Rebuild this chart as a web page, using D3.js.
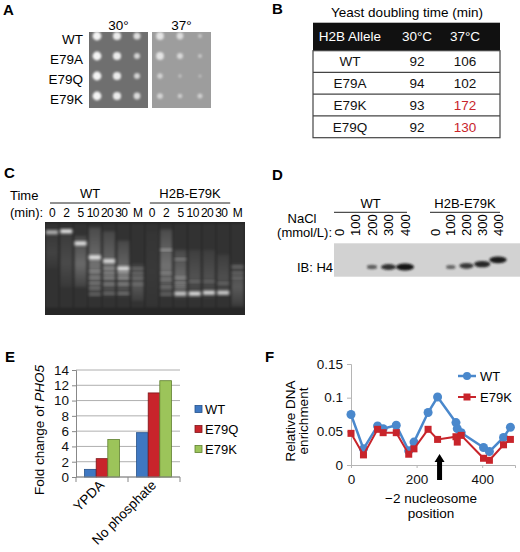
<!DOCTYPE html>
<html><head><meta charset="utf-8">
<script src="https://cdn.jsdelivr.net/npm/d3@7"></script>
<style>
body{margin:0;background:#fff}
svg{display:block;font-family:"Liberation Sans",Arial,Helvetica,sans-serif}
</style></head><body>
<svg id="fig" width="520" height="552"></svg>
<script>
// A - spot assay (growth score per 10x dilution)
var strains = ['WT', 'E79A', 'E79Q', 'E79K'];
var temps = ['30°', '37°'];
var growth30 = [[1, 0.9, 0.75], [1, 0.9, 0.6], [1, 0.9, 0.6], [1, 0.9, 0.7]];
var growth37 = [[0.85, 0.7, 0.3], [0.85, 0.6, 0.3], [0.5, 0.2, 0.15], [0.55, 0.4, 0.45]];

// B - doubling time table
var alleles = ['WT', 'E79A', 'E79K', 'E79Q'];
var dbl30 = [92, 94, 93, 92];
var dbl37 = [106, 102, 172, 130];
var tableCols = ['H2B Allele', '30°C', '37°C'];

// C - MNase gel, migration 0 (well) .. 1 (bottom)
var timeLabels = ['0', '2', '5', '10', '20', '30', 'M'];
var gelGroups = ['WT', 'H2B-E79K'];
// [from, to, brightness]
var gelSmear = [[0.12, 0.5, 0.1], [0.12, 0.7, 0.15], [0.15, 0.7, 0.35], [0.06, 0.8, 0.4], [0.1, 0.8, 0.35], [0.2, 0.8, 0.35], [0.45, 0.85, 0.25],
                [0.1, 0.9, 0.04], [0.08, 0.8, 0.4], [0.3, 0.82, 0.35], [0.3, 0.82, 0.2], [0.3, 0.82, 0.18], [0.35, 0.8, 0.18], [0.45, 0.9, 0.25]];
// [migration, brightness]
var gelBands = [
  [[0.11, 0.7]],
  [[0.10, 1.0]],
  [[0.23, 0.95]],
  [[0.38, 0.95], [0.53, 0.35], [0.6, 0.35], [0.66, 0.35], [0.71, 0.3], [0.78, 0.3]],
  [[0.42, 0.85], [0.5, 0.45], [0.55, 0.4], [0.6, 0.45], [0.67, 0.45], [0.77, 0.35]],
  [[0.5, 0.9], [0.55, 0.55], [0.6, 0.6], [0.67, 0.5], [0.77, 0.45]],
  [[0.5, 0.35], [0.55, 0.3], [0.6, 0.3], [0.67, 0.25]],
  [],
  [[0.3, 0.6], [0.55, 0.3], [0.62, 0.3], [0.7, 0.3], [0.78, 0.3]],
  [[0.4, 0.45], [0.6, 0.4], [0.66, 0.4], [0.7, 0.35], [0.77, 0.8]],
  [[0.64, 0.3], [0.77, 0.95]],
  [[0.64, 0.25], [0.76, 0.9]],
  [[0.66, 0.3], [0.76, 0.85]],
  [[0.48, 0.35], [0.55, 0.25], [0.6, 0.25]]
];

// D - salt extraction western
var naclLevels = ['0', '100', '200', '300', '400'];
var h4WT = [0, 0, 0.35, 0.75, 1];
var h4E79K = [0, 0.3, 0.7, 0.85, 0.95];
var h4E79KShift = [0, 0, 0.05, 0.12, 0.3];

// E - PHO5 expression
var conditions = ['YPDA', 'No phosphate'];
var mutants = ['WT', 'E79Q', 'E79K'];
var pho5WT = [1.0, 5.8];
var pho5E79Q = [2.4, 11.0];
var pho5E79K = [4.9, 12.6];
var pho5Ticks = [0, 2, 4, 6, 8, 10, 12, 14];

// F - nucleosome scanning
var positions = [0, 38, 81, 98, 138, 176, 192, 235, 264, 320, 324, 336, 404, 422, 465, 486];
var enrichWT = [0.075, 0.024, 0.058, 0.054, 0.059, 0.021, 0.034, 0.078, 0.101, 0.063, 0.054, 0.048, 0.026, 0.020, 0.041, 0.056];
var enrichE79K = [0.047, 0.015, 0.053, 0.048, 0.048, 0.016, 0.024, 0.053, 0.038, 0.042, 0.034, 0.044, 0.010, 0.007, 0.030, 0.038];
var arrowPos = 270;

var svg = d3.select('#fig');
var defs = svg.append('defs');
function blur(id, s) {
  defs.append('filter').attr('id', id).attr('x', '-50%').attr('y', '-50%').attr('width', '200%').attr('height', '200%')
    .append('feGaussianBlur').attr('stdDeviation', s);
}
blur('soft', 0.9);
blur('soft2', 1.8);
blur('band', 1.4);

function letter(x, y, t) {
  svg.append('text').attr('x', x).attr('y', y).attr('font-size', 15).attr('font-weight', 'bold').text(t);
}

// ---------- A ----------
letter(3, 15, 'A');
var rowY = d3.scalePoint().domain(strains).range([36, 96]);
var plates = [
  {t: temps[0], g: growth30, x: d3.scalePoint().domain([0, 1, 2]).range([97, 137]), bg: '#6f6f6f', spot: '#f4f4f4'},
  {t: temps[1], g: growth37, x: d3.scalePoint().domain([0, 1, 2]).range([160, 200]), bg: '#9d9d9d', spot: '#ececec'}
];
var gA = svg.append('g').attr('font-size', 13.5);
gA.selectAll('text.row').data(strains).join('text')
  .attr('x', 83).attr('y', d => rowY(d) + 3).attr('dy', '0.35em')
  .attr('text-anchor', 'end').text(d => d);
plates.forEach(function(p) {
  var x0 = p.x(0) - 8, x1 = p.x(2) + 11;
  gA.append('text').attr('x', (x0 + x1) / 2).attr('y', 30).attr('text-anchor', 'middle').text(p.t);
  gA.append('rect').attr('x', x0).attr('y', 32).attr('width', x1 - x0).attr('height', 76).attr('fill', p.bg);
  strains.forEach(function(s, i) {
    gA.selectAll(null).data(p.g[i]).join('circle')
      .attr('cx', (d, j) => p.x(j)).attr('cy', rowY(s))
      .attr('r', d => 1 + 3.4 * d)
      .attr('fill', p.spot).attr('opacity', d => 0.35 + 0.65 * d)
      .attr('filter', 'url(#soft)');
  });
});

// ---------- B ----------
letter(272, 14, 'B');
var gB = svg.append('g').attr('font-size', 13.5);
gB.append('text').attr('x', 407).attr('y', 17).attr('text-anchor', 'middle').text('Yeast doubling time (min)');
var tx0 = 313, tx1 = 500;
var colX = d3.scaleOrdinal().domain(tableCols).range([350, 417, 465]);
var rowB = d3.scaleBand().domain(alleles).range([50.7, 137.7]);
gB.append('rect').attr('x', tx0).attr('y', 22.7).attr('width', tx1 - tx0).attr('height', 28).attr('fill', '#111');
gB.selectAll('text.h').data(tableCols).join('text')
  .attr('x', d => colX(d)).attr('y', 36.7).attr('dy', '0.35em').attr('text-anchor', 'middle')
  .attr('fill', '#fff').text(d => d);
gB.append('rect').attr('x', tx0).attr('y', 50.7).attr('width', tx1 - tx0).attr('height', 87)
  .attr('fill', 'none').attr('stroke', '#444').attr('stroke-width', 1.2);
gB.selectAll('line.r').data(alleles.slice(1)).join('line')
  .attr('x1', tx0).attr('x2', tx1).attr('y1', d => rowB(d)).attr('y2', d => rowB(d))
  .attr('stroke', '#444').attr('stroke-width', 1.2);
alleles.forEach(function(a, i) {
  var cy = rowB(a) + rowB.bandwidth() / 2;
  var vals = [a, dbl30[i], dbl37[i]];
  gB.selectAll(null).data(vals).join('text')
    .attr('x', (d, j) => colX(tableCols[j])).attr('y', cy).attr('dy', '0.35em').attr('text-anchor', 'middle')
    .attr('fill', (d, j) => (j === 2 && d > 120) ? '#c8242b' : '#111')
    .text(d => d);
});

// ---------- C ----------
letter(4, 178, 'C');
var gC = svg.append('g').attr('font-size', 13);
gC.append('text').attr('x', 10).attr('y', 195).attr('dy', '0.35em').text('Time');
gC.append('text').attr('x', 10).attr('y', 212.7).attr('dy', '0.35em').text('(min):');
var laneKeys = d3.range(14);
var laneX = d3.scalePoint().domain(laneKeys).range([52, 237.5]);
var gelY = d3.scaleLinear().domain([0, 1]).range([222, 315]);
gelGroups.forEach(function(g, gi) {
  var a = laneX(gi * 7) - 2, b = laneX(gi * 7 + 5) + 7;
  gC.append('line').attr('x1', a).attr('x2', b).attr('y1', 203).attr('y2', 203).attr('stroke', '#222').attr('stroke-width', 1);
  gC.append('text').attr('x', (a + b) / 2).attr('y', 193).attr('dy', '0.35em').attr('text-anchor', 'middle').text(g);
});
gC.selectAll('text.lane').data(laneKeys).join('text')
  .attr('x', d => laneX(d) - (d % 7 > 2 && d % 7 < 6 ? 2 : 0)).attr('y', 212.7).attr('dy', '0.35em').attr('text-anchor', 'middle')
  .attr('font-size', 12).attr('letter-spacing', -0.6)
  .text(d => timeLabels[d % 7]);
gC.append('rect').attr('x', 45).attr('y', gelY(0)).attr('width', 200).attr('height', gelY(1) - gelY(0)).attr('fill', '#272727');
// faint lane backgrounds
gC.selectAll('rect.laneBg').data(laneKeys).join('rect')
  .attr('x', d => laneX(d) - 6.5).attr('width', 13)
  .attr('y', gelY(0.02)).attr('height', gelY(0.92) - gelY(0.02))
  .attr('fill', '#fff').attr('opacity', 0.05).attr('filter', 'url(#soft)');
var smearGrad = defs.append('linearGradient').attr('id', 'smear').attr('x1', 0).attr('x2', 0).attr('y1', 0).attr('y2', 1);
smearGrad.append('stop').attr('offset', '0%').attr('stop-color', '#fff').attr('stop-opacity', 0.35);
smearGrad.append('stop').attr('offset', '55%').attr('stop-color', '#fff').attr('stop-opacity', 0.9);
smearGrad.append('stop').attr('offset', '100%').attr('stop-color', '#fff').attr('stop-opacity', 0.25);
gC.selectAll('rect.smear').data(gelSmear).join('rect')
  .attr('x', (d, i) => laneX(i) - 6).attr('width', 12)
  .attr('y', d => gelY(d[0])).attr('height', d => gelY(d[1]) - gelY(d[0]))
  .attr('fill', 'url(#smear)').attr('opacity', d => d[2] * 0.85).attr('filter', 'url(#soft2)');
gelBands.forEach(function(bands, i) {
  gC.selectAll(null).data(bands).join('rect')
    .attr('x', laneX(i) - 6).attr('width', 12)
    .attr('y', d => gelY(d[0]) - (d[1] > 0.6 ? 2 : 1)).attr('height', d => d[1] > 0.6 ? 4 : 2)
    .attr('fill', '#fff').attr('opacity', d => d[1] > 0.6 ? d[1] * 0.9 : d[1] * 0.7).attr('filter', 'url(#band)');
});

// ---------- D ----------
letter(272, 180, 'D');
var gD = svg.append('g').attr('font-size', 13);
gD.append('text').attr('x', 302).attr('y', 218.5).attr('dy', '0.35em').attr('text-anchor', 'middle').text('NaCl');
gD.append('text').attr('x', 332).attr('y', 232.5).attr('dy', '0.35em').attr('text-anchor', 'end').text('(mmol/L):');
var laneWT = d3.scalePoint().domain(naclLevels).range([339, 405]);
var laneK = d3.scalePoint().domain(naclLevels).range([435, 498]);
var blotY = d3.scaleLinear().domain([0, 1]).range([267, 243]);
[[gelGroups[0], laneWT], [gelGroups[1], laneK]].forEach(function(s) {
  var sc = s[1];
  var a = sc('0') - 5, b = sc('400') + 2;
  gD.append('line').attr('x1', a).attr('x2', b).attr('y1', 212.3).attr('y2', 212.3).attr('stroke', '#222');
  gD.append('text').attr('x', (a + b) / 2).attr('y', 203).attr('dy', '0.35em').attr('text-anchor', 'middle').text(s[0]);
  gD.selectAll(null).data(naclLevels).join('text')
    .attr('transform', d => 'translate(' + sc(d) + ',236) rotate(-90)')
    .attr('dy', '0.35em').text(d => d);
});
gD.append('rect').attr('x', 334).attr('y', 243.3).attr('width', 186).attr('height', 33.4).attr('fill', '#d2d2d2');
gD.append('text').attr('x', 315).attr('y', 267).attr('dy', '0.35em').attr('text-anchor', 'middle').text('IB: H4');
[[laneWT, h4WT, [0, 0, 0, 0, 0]], [laneK, h4E79K, h4E79KShift]].forEach(function(s) {
  gD.selectAll(null).data(s[1]).join('ellipse')
    .attr('cx', (d, i) => s[0](naclLevels[i]))
    .attr('cy', (d, i) => blotY(s[2][i]))
    .attr('rx', d => d > 0 ? 3 + 6 * d : 0)
    .attr('ry', d => 1.5 + 2 * d)
    .attr('fill', '#151515').attr('opacity', d => 0.4 + 0.6 * d)
    .attr('filter', 'url(#soft)');
});

// ---------- E ----------
letter(5, 362, 'E');
var gE = svg.append('g').attr('font-size', 13);
var yE = d3.scaleLinear().domain([0, 14]).range([477, 370]);
var xE = d3.scaleBand().domain(conditions).range([76, 180]).paddingInner(0.33).paddingOuter(0.165);
var xSub = d3.scaleBand().domain(mutants).range([0, xE.bandwidth()]);
var colE = d3.scaleOrdinal().domain(mutants).range(['#3f78c2', '#c8242b', '#9cc45a']);
var strokeE = d3.scaleOrdinal().domain(mutants).range(['#24508a', '#7e1419', '#5e7f2e']);
var pho5 = {WT: pho5WT, E79Q: pho5E79Q, E79K: pho5E79K};
gE.selectAll('line.grid').data(pho5Ticks).join('line')
  .attr('x1', 76).attr('x2', 180).attr('y1', d => yE(d)).attr('y2', d => yE(d))
  .attr('stroke', '#9a9a9a').attr('stroke-width', 0.8);
gE.append('g').attr('transform', 'translate(76,0)')
  .call(d3.axisLeft(yE).tickValues(pho5Ticks).tickSize(4).tickPadding(3))
  .call(g => g.selectAll('text').attr('font-size', 13.5).attr('font-family', null).attr('fill', '#111'))
  .call(g => g.selectAll('line,path').attr('stroke', '#888'));
mutants.forEach(function(m) {
  gE.selectAll(null).data(pho5[m]).join('rect')
    .attr('x', (d, i) => xE(conditions[i]) + xSub(m)).attr('width', xSub.bandwidth())
    .attr('y', d => yE(d)).attr('height', d => yE(0) - yE(d))
    .attr('fill', colE(m)).attr('stroke', strokeE(m)).attr('stroke-width', 0.8);
});
gE.append('line').attr('x1', 76).attr('x2', 180).attr('y1', yE(0)).attr('y2', yE(0)).attr('stroke', '#888');
gE.selectAll('line.xt').data([76, 128, 180]).join('line')
  .attr('x1', d => d).attr('x2', d => d).attr('y1', yE(0)).attr('y2', yE(0) + 5).attr('stroke', '#888');
gE.selectAll('text.cat').data(conditions).join('text')
  .attr('transform', d => 'translate(' + (xE(d) + xE.bandwidth() / 2 + 3) + ',486) rotate(-45)')
  .attr('text-anchor', 'end').attr('font-size', 13.5).text(d => d);
var yt = gE.append('text').attr('transform', 'translate(44,430) rotate(-90)').attr('text-anchor', 'middle').attr('font-size', 13.5);
yt.append('tspan').text('Fold change of ');
yt.append('tspan').attr('font-style', 'italic').text('PHO5');
var legE = gE.selectAll('g.leg').data(mutants).join('g')
  .attr('transform', (d, i) => 'translate(195,' + (409 + 20 * i) + ')');
legE.append('rect').attr('x', 0).attr('y', -3.5).attr('width', 7).attr('height', 7)
  .attr('fill', d => colE(d)).attr('stroke', d => strokeE(d)).attr('stroke-width', 0.8);
legE.append('text').attr('x', 10).attr('dy', '0.35em').text(d => d);

// ---------- F ----------
letter(265, 362, 'F');
var gF = svg.append('g').attr('font-size', 13);
var xF = d3.scaleLinear().domain([0, 500]).range([351, 515]);
var yF = d3.scaleLinear().domain([0, 0.15]).range([465, 364]);
gF.append('g').attr('transform', 'translate(351,0)')
  .call(d3.axisLeft(yF).tickValues([0, 0.05, 0.1, 0.15]).tickFormat(d => d === 0 ? '0' : String(+d.toFixed(2))).tickSize(4).tickPadding(4))
  .call(g => g.selectAll('text').attr('font-size', 13.5).attr('font-family', null).attr('fill', '#111'))
  .call(g => g.selectAll('line,path').attr('stroke', '#b5b5b5'));
gF.append('g').attr('transform', 'translate(0,465)')
  .call(d3.axisBottom(xF).tickValues([0, 200, 400]).tickSize(3).tickPadding(6))
  .call(g => g.selectAll('text').attr('font-size', 13.5).attr('font-family', null).attr('fill', '#111'))
  .call(g => g.selectAll('line,path').attr('stroke', '#b5b5b5'));
var lineF = d3.line().x((d, i) => xF(positions[i])).y(d => yF(d));
var blue = '#4a88cc', red = '#c8242b';
gF.append('path').datum(enrichWT).attr('d', lineF).attr('fill', 'none').attr('stroke', blue).attr('stroke-width', 2.5);
gF.selectAll('circle.wt').data(enrichWT).join('circle')
  .attr('cx', (d, i) => xF(positions[i])).attr('cy', d => yF(d)).attr('r', 4.5).attr('fill', blue);
gF.append('path').datum(enrichE79K).attr('d', lineF).attr('fill', 'none').attr('stroke', red).attr('stroke-width', 2);
gF.selectAll('rect.k').data(enrichE79K).join('rect')
  .attr('x', (d, i) => xF(positions[i]) - 3.5).attr('y', d => yF(d) - 3.5).attr('width', 7).attr('height', 7).attr('fill', red);
// legend
var legF = gF.selectAll('g.leg').data([['WT', blue, 'c'], ['E79K', red, 's']]).join('g')
  .attr('transform', (d, i) => 'translate(458,' + (376 + 21 * i) + ')');
legF.append('line').attr('x1', 0).attr('x2', 18).attr('stroke', d => d[1]).attr('stroke-width', d => d[2] === 'c' ? 2.5 : 2);
legF.filter(d => d[2] === 'c').append('circle').attr('cx', 9).attr('r', 4).attr('fill', d => d[1]);
legF.filter(d => d[2] === 's').append('rect').attr('x', 5.5).attr('y', -3.5).attr('width', 7).attr('height', 7).attr('fill', d => d[1]);
legF.append('text').attr('x', 22).attr('dy', '0.35em').text(d => d[0]);
// arrow
var ax = xF(arrowPos);
gF.append('path')
  .attr('d', 'M' + ax + ',454 L' + (ax + 5) + ',462 L' + (ax + 2.5) + ',462 L' + (ax + 2.5) + ',480 L' + (ax - 2.5) + ',480 L' + (ax - 2.5) + ',462 L' + (ax - 5) + ',462 Z')
  .attr('fill', '#000');
gF.append('text').attr('x', 431).attr('y', 503).attr('text-anchor', 'middle').attr('font-size', 13.5).text('\u22122 nucleosome');
gF.append('text').attr('x', 431).attr('y', 518).attr('text-anchor', 'middle').attr('font-size', 13.5).text('position');
var ytf = gF.append('text').attr('transform', 'translate(295,421) rotate(-90)').attr('text-anchor', 'middle').attr('font-size', 13.5);
ytf.append('tspan').attr('x', 0).attr('dy', 0).text('Relative DNA');
ytf.append('tspan').attr('x', 0).attr('dy', 13).text('enrichment');
</script>
</body></html>
